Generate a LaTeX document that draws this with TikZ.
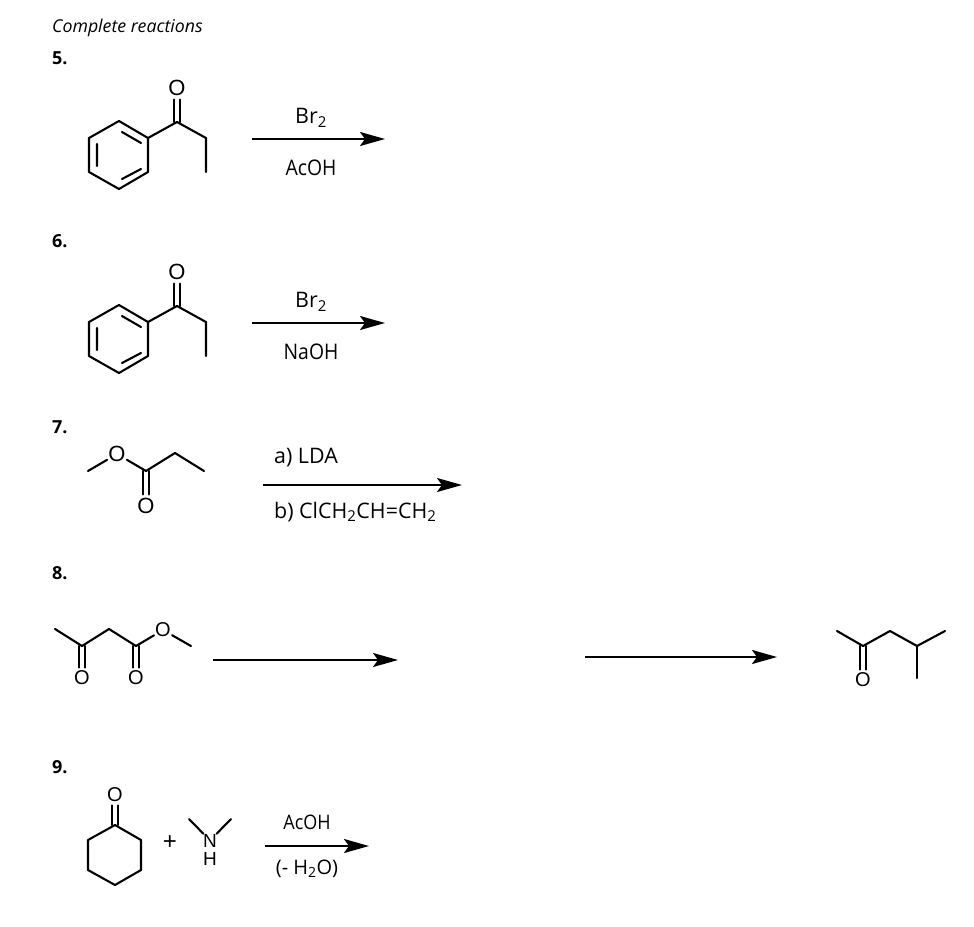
\documentclass[tikz,border=0pt]{standalone}
\usepackage{fontspec}
\setmainfont{Open Sans}
\newfontfamily\narrowf[FakeStretch=0.9]{Open Sans}
\newfontfamily\atomfont{Liberation Sans}
\usetikzlibrary{arrows.meta}
\tikzset{
  bond/.style={line width=2.1pt,line cap=round,line join=round},
  rxn/.style={line width=2.2pt,-{Stealth[length=25pt,width=14pt,inset=5pt]}},
  atom/.style={circle,inner sep=0pt,outer sep=0pt,minimum size=21pt,font=\atomfont\fontsize{22}{22}\selectfont},
  small atom/.style={atom,minimum size=19pt,font=\atomfont\fontsize{20}{20}\selectfont},
  hetero/.style={atom,minimum size=17pt,font=\atomfont\fontsize{19}{19}\selectfont},
  reag/.style={inner sep=0pt,font=\fontsize{21.4}{24}\selectfont},
  reag narrow/.style={inner sep=0pt,font=\narrowf\fontsize{21.5}{24}\selectfont},
  reag small/.style={inner sep=0pt,font=\narrowf\fontsize{20}{22}\selectfont},
  reag water/.style={inner sep=0pt,font=\fontsize{20}{22}\selectfont},
  plussign/.style={inner sep=0pt,font=\atomfont\fontsize{24}{24}\selectfont},
  num/.style={inner sep=0pt,anchor=west,font=\bfseries\fontsize{18}{19}\selectfont},
  title/.style={inner sep=0pt,anchor=west,font=\itshape\fontsize{17.7}{21}\selectfont}
}
\begin{document}
\begin{tikzpicture}[x=1pt,y=-1pt]
\useasboundingbox (0,0) rectangle (974,926);
\node[title] (t) at (52,28) {Complete reactions};
\node[num] (n5) at (52,58) {5.};
\node[num] (n6) at (52,241) {6.};
\node[num] (n7) at (52,427) {7.};
\node[num] (n8) at (52,573) {8.};
\node[num] (n9) at (52,767) {9.};
% 5 and 6
\foreach \d/\s/\lab in {0/a/AcOH,184/b/NaOH}{
  \coordinate (r1\s) at (119,121+\d);
  \coordinate (r2\s) at (148,138+\d);
  \coordinate (r3\s) at (148,172+\d);
  \coordinate (r4\s) at (119,189+\d);
  \coordinate (r5\s) at (89,172+\d);
  \coordinate (r6\s) at (89,138+\d);
  \coordinate (i1\s) at (122,132+\d);
  \coordinate (i2\s) at (141,143+\d);
  \coordinate (i3\s) at (122,179+\d);
  \coordinate (i4\s) at (141,169+\d);
  \coordinate (i5\s) at (97,144+\d);
  \coordinate (i6\s) at (97,166+\d);
  \coordinate (c\s) at (177,122+\d);
  \coordinate (d\s) at (206,138+\d);
  \coordinate (e\s) at (206,172+\d);
  \node[atom] (o\s) at (177,88+\d) {O};
  \draw[bond] (r1\s)--(r2\s)--(r3\s)--(r4\s)--(r5\s)--(r6\s)--cycle;
  \draw[bond] (i1\s)--(i2\s) (i3\s)--(i4\s) (i5\s)--(i6\s);
  \draw[bond] (r2\s)--(c\s)--(d\s)--(e\s);
  \draw[bond] ([xshift=-3.2pt]c\s)--([xshift=-3.2pt]o\s.south);
  \draw[bond] ([xshift=3.2pt]c\s)--([xshift=3.2pt]o\s.south);
  \coordinate (as\s) at (252,139+\d);
  \coordinate (ae\s) at (385,139+\d);
  \draw[rxn] (as\s)--(ae\s);
  \node[reag] (u\s) at (311,118+\d) {Br\textsubscript{2}};
  \node[reag narrow] (v\s) at (311,168+\d) {\lab};
}
% 7
\coordinate (m1) at (88,471);
\node[atom] (m2) at (117,454) {O};
\coordinate (m3) at (146,471);
\node[atom] (m4) at (146,506) {O};
\coordinate (m5) at (175,453);
\coordinate (m6) at (204,471);
\draw[bond] (m1)--(m2)--(m3)--(m5)--(m6);
\draw[bond] ([xshift=-3.2pt]m3)--([xshift=-3.2pt]m4.north);
\draw[bond] ([xshift=3.2pt]m3)--([xshift=3.2pt]m4.north);
\coordinate (as7) at (263,485);
\coordinate (ae7) at (462,485);
\draw[rxn] (as7)--(ae7);
\node[reag,anchor=west] (u7) at (274,458) {a) LDA};
\node[reag,anchor=west] (v7) at (274,512) {b) ClCH\textsubscript{2}CH=CH\textsubscript{2}};
% 8
\coordinate (p1) at (55,629);
\coordinate (p2) at (82,646);
\node[small atom] (p3) at (82,678) {O};
\coordinate (p4) at (109,629);
\coordinate (p5) at (136,646);
\node[small atom] (p6) at (136,678) {O};
\node[small atom] (p7) at (163,630) {O};
\coordinate (p8) at (191,646);
\draw[bond] (p1)--(p2)--(p4)--(p5)--(p7)--(p8);
\draw[bond] ([xshift=-3.2pt]p2)--([xshift=-3.2pt]p3.north);
\draw[bond] ([xshift=3.2pt]p2)--([xshift=3.2pt]p3.north);
\draw[bond] ([xshift=-3.2pt]p5)--([xshift=-3.2pt]p6.north);
\draw[bond] ([xshift=3.2pt]p5)--([xshift=3.2pt]p6.north);
\coordinate (as8) at (213,660);
\coordinate (ae8) at (398,660);
\draw[rxn] (as8)--(ae8);
\coordinate (as8b) at (585,657);
\coordinate (ae8b) at (777,657);
\draw[rxn] (as8b)--(ae8b);
\coordinate (q1) at (837,631);
\coordinate (q2) at (863,646);
\node[small atom] (q3) at (863,680) {O};
\coordinate (q4) at (890,631);
\coordinate (q5) at (917,646);
\coordinate (q6) at (945,631);
\coordinate (q7) at (917,678);
\draw[bond] (q1)--(q2)--(q4)--(q5)--(q6);
\draw[bond] (q5)--(q7);
\draw[bond] ([xshift=-3.2pt]q2)--([xshift=-3.2pt]q3.north);
\draw[bond] ([xshift=3.2pt]q2)--([xshift=3.2pt]q3.north);
% 9
\node[small atom] (h0) at (115,795) {O};
\coordinate (h1) at (115,825);
\coordinate (h2) at (141,840);
\coordinate (h3) at (141,870);
\coordinate (h4) at (115,885);
\coordinate (h5) at (88,870);
\coordinate (h6) at (88,840);
\draw[bond] (h1)--(h2)--(h3)--(h4)--(h5)--(h6)--cycle;
\draw[bond] ([xshift=-3.2pt]h1)--([xshift=-3.2pt]h0.south);
\draw[bond] ([xshift=3.2pt]h1)--([xshift=3.2pt]h0.south);
\node[plussign] (plus) at (170,843) {+};
\coordinate (k1) at (189,819);
\node[hetero] (k2) at (210,840.5) {N};
\coordinate (k3) at (231,819);
\node[hetero] (k4) at (210,859) {H};
\draw[bond] (k1)--(k2)--(k3);
\coordinate (as9) at (265,846);
\coordinate (ae9) at (369,846);
\draw[rxn] (as9)--(ae9);
\node[reag small] (u9) at (307,822) {AcOH};
\node[reag water] (v9) at (307,869) {(- H\textsubscript{2}O)};
\end{tikzpicture}
\end{document}
